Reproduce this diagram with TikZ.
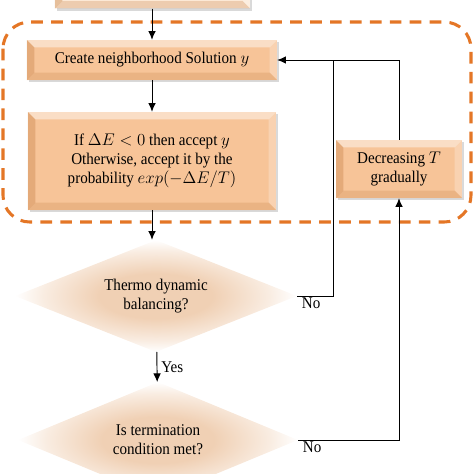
\documentclass[tikz,border=0pt]{standalone}
\usepackage{amsmath}
\usepackage{fontspec}
\setmainfont{Liberation Serif}[FakeStretch=0.92]
\usetikzlibrary{arrows, arrows.meta}
\usetikzlibrary{calc}
\usetikzlibrary{shapes.geometric, shadows}

\definecolor{boxfill}{RGB}{247,196,152}
\definecolor{boxdark}{RGB}{205,140,85}
\definecolor{startfill}{RGB}{252,233,214}
\definecolor{diafill}{RGB}{240,208,180}
\definecolor{frameorange}{RGB}{228,118,38}

\pgfdeclareradialshading{diashade}{\pgfpoint{0bp}{0bp}}{%
  color(0bp)=(diafill); color(10bp)=(diafill); color(20bp)=(diafill!40!white);
  color(25bp)=(white); color(50bp)=(white)}

\tikzset{
  bevelbox/.style={rectangle, fill=#1, align=center, inner sep=2pt,
    drop shadow={opacity=0.3, shadow xshift=0.5mm, shadow yshift=-0.7mm},
    path picture={
      \def\bv{0.22cm}
      \coordinate (NW) at (path picture bounding box.north west);
      \coordinate (NE) at (path picture bounding box.north east);
      \coordinate (SW) at (path picture bounding box.south west);
      \coordinate (SE) at (path picture bounding box.south east);
      \fill[white, opacity=0.45] (NW) -- (NE) -- ([shift={(-\bv,-\bv)}]NE) -- ([shift={(\bv,-\bv)}]NW) -- cycle;
      \fill[boxdark, opacity=0.45] (NW) -- ([shift={(\bv,-\bv)}]NW) -- ([shift={(\bv,\bv)}]SW) -- (SW) -- cycle;
      \fill[white, opacity=0.25] (NE) -- (SE) -- ([shift={(-\bv,\bv)}]SE) -- ([shift={(-\bv,-\bv)}]NE) -- cycle;
      \fill[boxdark, opacity=0.3] (SW) -- (SE) -- ([shift={(-\bv,\bv)}]SE) -- ([shift={(\bv,\bv)}]SW) -- cycle;
    }},
  bevelbox/.default=boxfill,
  decision/.style={diamond, aspect=2.5, inner sep=0pt, align=center,
    shading=diashade},
  flow/.style={-{Latex[length=2.6mm, width=2.3mm]}, line width=0.8pt},
  link/.style={line width=0.8pt},
}

\begin{document}
\begin{tikzpicture}[x=0.03cm, y=-0.03cm,
    font=\fontsize{14}{16.2}\selectfont]
  \useasboundingbox (0,0) rectangle (474,474);
  \clip (0,0) rectangle (474,474);

  % dashed loop frame
  \draw[frameorange, line width=2.6pt, dash pattern=on 10pt off 7pt, rounded corners=0.8cm]
    (3,22) rectangle (471,222);

  % blocks
  \node[bevelbox=startfill, minimum width=5.85cm, minimum height=1.4cm] (start) at (152.5,-15) {};
  \node[bevelbox, minimum width=7.5cm, minimum height=1.2cm] (create) at (152,60)
    {Create neighborhood Solution $y$};
  \node[bevelbox, minimum width=7.44cm, minimum height=2.94cm] (accept) at (152,161)
    {If $\Delta E<0$ then accept $y$\\ Otherwise, accept it by the\\ probability $exp(-\Delta E/T)$};
  \node[bevelbox, minimum width=3.78cm, minimum height=1.74cm] (decr) at (399,169)
    {Decreasing $T$\\ gradually};
  \node[decision, minimum width=8.46cm, minimum height=3.36cm] (therm) at (156,296)
    {Thermo dynamic\\ balancing?};
  \node[decision, minimum width=8.4cm, minimum height=3.48cm] (term) at (158,440)
    {Is termination\\ condition met?};

  \coordinate (jn) at (333,60);

  % connectors
  \draw[flow] (start.south -| create.north) -- (create.north);
  \draw[flow] (create) -- (accept);
  \draw[flow] (accept.south) -- (accept.south |- therm.north);
  \draw[flow] (therm) -- node[right] {Yes} (term);
  \draw[flow] (decr.north) |- (create.east);
  \draw[link] (therm.east) -| (jn);
  \draw[flow] (term.east) -| (decr.south);

  \node[below right, inner sep=1pt] (no1) at ([xshift=1mm]therm.east) {No};
  \node[below right, inner sep=1pt] (no2) at ([xshift=1mm]term.east) {No};
\end{tikzpicture}
\end{document}
